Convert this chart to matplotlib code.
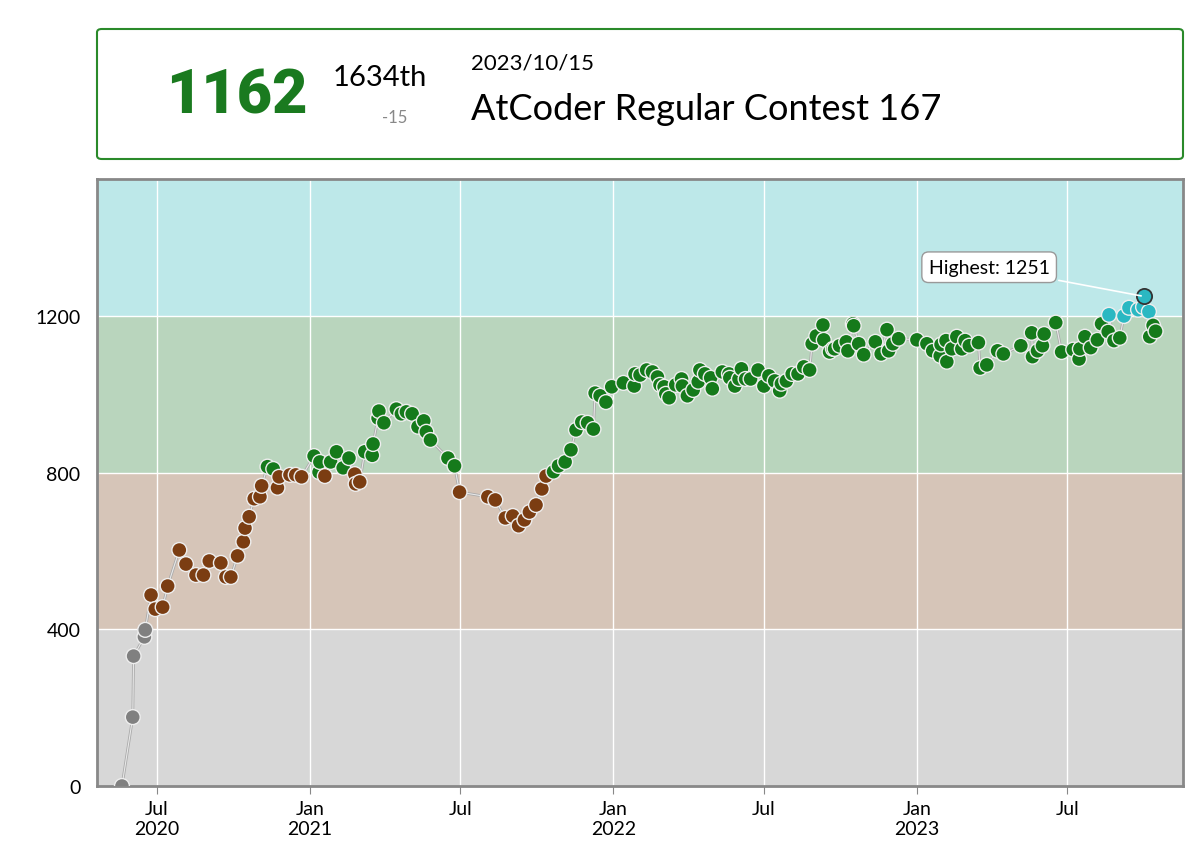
import matplotlib.pyplot as plt
import matplotlib.dates as mdates
import numpy as np
import pandas as pd
from matplotlib.patches import FancyBboxPatch

plt.rcParams['font.family'] = ['Lato', 'DejaVu Sans']

dates = [
    "2020-05-20", "2020-06-02", "2020-06-03", "2020-06-16", "2020-06-17", "2020-06-24", "2020-06-29",
    "2020-07-08", "2020-07-14", "2020-07-28", "2020-08-05", "2020-08-17", "2020-08-26", "2020-09-02",
    "2020-09-16", "2020-09-22", "2020-09-28", "2020-10-06", "2020-10-13", "2020-10-15", "2020-10-20",
    "2020-10-26", "2020-11-02", "2020-11-04", "2020-11-11", "2020-11-18", "2020-11-23", "2020-11-25",
    "2020-12-08", "2020-12-15", "2020-12-22", "2021-01-06", "2021-01-12", "2021-01-13", "2021-01-19",
    "2021-01-26", "2021-02-02", "2021-02-10", "2021-02-17", "2021-02-24", "2021-02-25", "2021-03-02",
    "2021-03-08", "2021-03-17", "2021-03-18", "2021-03-24", "2021-03-25", "2021-03-31", "2021-04-15",
    "2021-04-21", "2021-04-27", "2021-05-04", "2021-05-11", "2021-05-18", "2021-05-21", "2021-05-26",
    "2021-06-16", "2021-06-24", "2021-06-30", "2021-08-03", "2021-08-12", "2021-08-24", "2021-09-02",
    "2021-09-09", "2021-09-16", "2021-09-22", "2021-09-30", "2021-10-07", "2021-10-12", "2021-10-21",
    "2021-10-27", "2021-11-04", "2021-11-11", "2021-11-17", "2021-11-24", "2021-12-01", "2021-12-08",
    "2021-12-10", "2021-12-16", "2021-12-23", "2021-12-30", "2022-01-13", "2022-01-26", "2022-01-27",
    "2022-02-02", "2022-02-10", "2022-02-17", "2022-02-23", "2022-02-26", "2022-03-03", "2022-03-05",
    "2022-03-09", "2022-03-17", "2022-03-24", "2022-03-25", "2022-03-31", "2022-04-07", "2022-04-13",
    "2022-04-15", "2022-04-21", "2022-04-28", "2022-04-30", "2022-05-12", "2022-05-20", "2022-05-21",
    "2022-05-27", "2022-06-01", "2022-06-04", "2022-06-09", "2022-06-15", "2022-06-24", "2022-07-01",
    "2022-07-07", "2022-07-14", "2022-07-20", "2022-07-22", "2022-07-28", "2022-08-04", "2022-08-11",
    "2022-08-18", "2022-08-25", "2022-08-28", "2022-09-02", "2022-09-10", "2022-09-11", "2022-09-18",
    "2022-09-22", "2022-09-24", "2022-09-30", "2022-10-08", "2022-10-10", "2022-10-16", "2022-10-17",
    "2022-10-23", "2022-10-29", "2022-11-12", "2022-11-19", "2022-11-26", "2022-11-28", "2022-12-03",
    "2022-12-10", "2023-01-01", "2023-01-13", "2023-01-20", "2023-01-29", "2023-01-30", "2023-02-05",
    "2023-02-06", "2023-02-12", "2023-02-18", "2023-02-24", "2023-02-28", "2023-03-05", "2023-03-16",
    "2023-03-18", "2023-03-26", "2023-04-08", "2023-04-15", "2023-05-06", "2023-05-19", "2023-05-20",
    "2023-05-26", "2023-06-01", "2023-06-03", "2023-06-17", "2023-06-24", "2023-07-08", "2023-07-15",
    "2023-07-16", "2023-07-22", "2023-07-29", "2023-08-06", "2023-08-11", "2023-08-19", "2023-08-20",
    "2023-08-26", "2023-09-02", "2023-09-07", "2023-09-13", "2023-09-24", "2023-09-30", "2023-10-01",
    "2023-10-07", "2023-10-08", "2023-10-12", "2023-10-15",
]
ratings = [
    0, 176, 332, 381, 399, 488, 452,
    457, 511, 603, 567, 539, 539, 575,
    570, 534, 534, 588, 624, 659, 688,
    734, 739, 767, 816, 810, 762, 790,
    795, 795, 790, 843, 802, 828, 792,
    828, 854, 813, 838, 797, 772, 777,
    854, 845, 874, 940, 958, 928, 963,
    951, 956, 951, 918, 933, 905, 884,
    838, 818, 751, 739, 731, 685, 690,
    665, 680, 700, 718, 759, 792, 803,
    818, 828, 859, 910, 930, 928, 912,
    1004, 997, 981, 1020, 1030, 1022, 1053,
    1050, 1063, 1058, 1045, 1025, 1020, 1002,
    992, 1025, 1040, 1022, 997, 1012, 1033,
    1063, 1053, 1043, 1015, 1058, 1053, 1043,
    1022, 1040, 1066, 1040, 1040, 1063, 1022,
    1048, 1035, 1010, 1028, 1035, 1053, 1053,
    1071, 1063, 1130, 1150, 1178, 1140, 1109,
    1117, 1117, 1125, 1135, 1112, 1181, 1176,
    1130, 1102, 1135, 1104, 1166, 1112, 1130,
    1143, 1140, 1130, 1112, 1099, 1128, 1138,
    1084, 1117, 1148, 1117, 1138, 1125, 1133,
    1068, 1076, 1112, 1104, 1125, 1158, 1097,
    1112, 1125, 1155, 1184, 1109, 1115, 1091,
    1117, 1148, 1120, 1140, 1181, 1161, 1204,
    1138, 1145, 1201, 1222, 1217, 1224, 1251,
    1212, 1148, 1177, 1162,
]

bands = [0, 400, 800, 1200, 1600]
band_colors = ["#d7d7d7", "#d6c5b8", "#b9d5bd", "#bde8e9"]
marker_colors = ["#808080", "#7b3d12", "#157a1b", "#2bb8c2"]

x = pd.to_datetime(dates)
r = np.array(ratings)

fig = plt.figure(figsize=(12, 8.45), dpi=100)
ax = fig.add_axes([97 / 1200, 58 / 845, 1086 / 1200, 607 / 845])

xmin, xmax = pd.Timestamp("2020-04-20"), pd.Timestamp("2023-11-17")
for i in range(4):
    ax.axhspan(bands[i], bands[i + 1], color=band_colors[i], zorder=0, lw=0)
for b in bands[1:4]:
    ax.axhline(b, color="white", lw=1, zorder=1)

ax.plot(x, r, color="#aaaaaa", lw=2, zorder=2)
ax.plot(x, r, color="#e8e8e8", lw=0.8, zorder=2)
cols = [marker_colors[min(int(v // 400), 3)] for v in r]
ax.scatter(x, r, s=115, c=cols, edgecolors="#eeeeee", linewidths=1, zorder=3)

ih = int(np.argmax(r))
ax.scatter([x[ih]], [r[ih]], s=120, c=marker_colors[3], edgecolors="#333333", linewidths=1.3, zorder=4)
ax.annotate(f"Highest: {r[ih]}", xy=(x[ih], r[ih]), xytext=(-155, 21), textcoords="offset points",
            fontsize=14, ha="left", va="center",
            bbox=dict(boxstyle="round,pad=0.35", fc="white", ec="#999999", lw=1),
            arrowprops=dict(arrowstyle="-", color="white", lw=1.2), zorder=5)

ax.set_xlim(xmin, xmax)
ax.set_ylim(0, 1551)
ax.set_yticks([0, 400, 800, 1200])
ticks = pd.to_datetime(["2020-07-01", "2021-01-01", "2021-07-01", "2022-01-01", "2022-07-01",
                        "2023-01-01", "2023-07-01"])
tick_labels = ["Jul\n2020", "Jan\n2021", "Jul", "Jan\n2022", "Jul", "Jan\n2023", "Jul"]
ax.set_xticks(ticks)
ax.set_xticklabels(tick_labels)
ax.grid(axis="x", color="white", lw=1, zorder=1)
ax.set_axisbelow(True)
ax.tick_params(labelsize=14, length=6, color="#888888", pad=4)
ax.tick_params(axis="y", length=0, pad=12)
for s in ax.spines.values():
    s.set_color("#888888")
    s.set_linewidth(2)

# header box
box = FancyBboxPatch((97 / 1200, (845 - 160) / 845), 1086 / 1200, 130 / 845,
                     boxstyle="round,pad=0,rounding_size=0.004", transform=fig.transFigure,
                     fc="white", ec="#2a8a2a", lw=1.5)
fig.patches.append(box)
fig.text(237 / 1200, 1 - 97 / 845, "1162", color="#1a7a1f", fontsize=44, fontweight="black",
         family=["Roboto", "DejaVu Sans"], ha="center", va="center")
fig.text(380 / 1200, 1 - 78 / 845, "1634th", fontsize=21, ha="center", va="center")
fig.text(395 / 1200, 1 - 118 / 845, "-15", fontsize=12, color="#888888", ha="center", va="center")
fig.text(471 / 1200, 1 - 63 / 845, "2023/10/15", fontsize=16, ha="left", va="center")
fig.text(471 / 1200, 1 - 110 / 845, "AtCoder Regular Contest 167", fontsize=26, ha="left", va="center")

fig.savefig("out.png", dpi=100)
